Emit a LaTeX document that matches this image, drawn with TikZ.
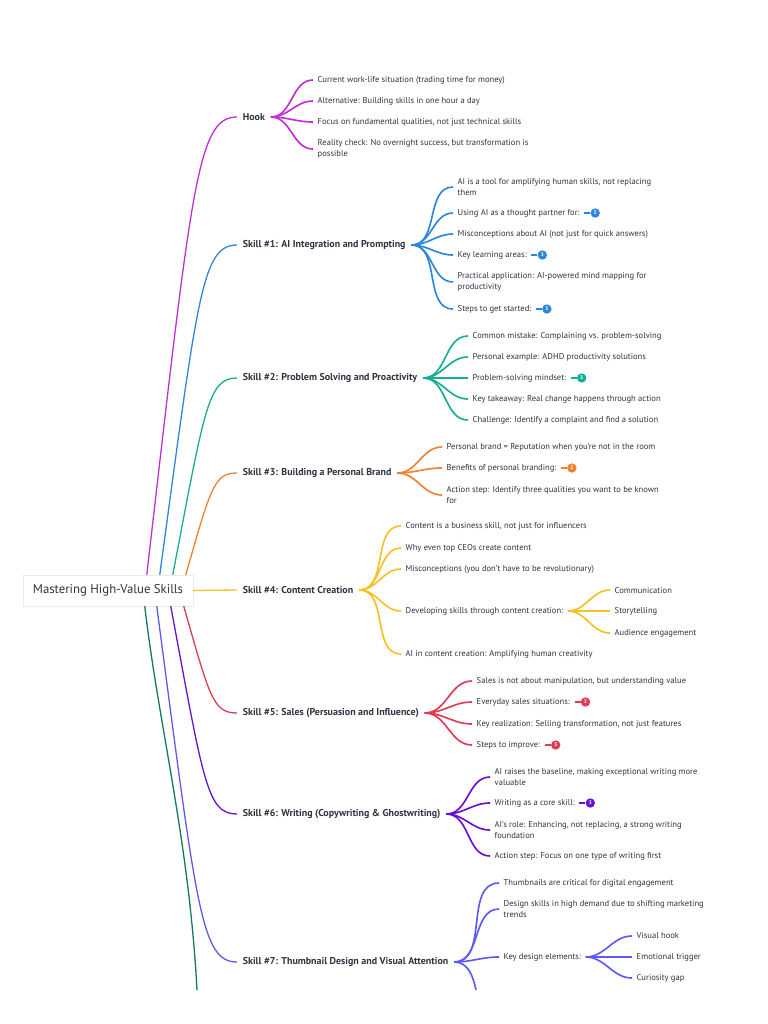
\documentclass[tikz,border=0pt]{standalone}
\usepackage{fontspec}
\setmainfont{PT Sans}
\usetikzlibrary{positioning,calc}

\definecolor{ink}{HTML}{2E3440}
\definecolor{hookc}{HTML}{C22DD6}
\definecolor{aic}{HTML}{2D86DD}
\definecolor{probc}{HTML}{15AD93}
\definecolor{brandc}{HTML}{F0802C}
\definecolor{contc}{HTML}{F8C023}
\definecolor{salesc}{HTML}{DE3B54}
\definecolor{writc}{HTML}{6A0FCF}
\definecolor{thumbc}{HTML}{5E59F2}
\definecolor{nextc}{HTML}{107A5C}

\newcommand{\leaffont}{\fontsize{7.3}{9}\selectfont}
\newcommand{\skillfont}{\bfseries\fontsize{8.5}{10}\selectfont}
\newcommand{\rootfont}{\fontsize{10.9}{12}\selectfont}

\tikzset{
  root/.style={draw=black!8, fill=white, minimum width=5.1cm, minimum height=0.93cm, font=\rootfont, text=ink},
  skill/.style={anchor=west, inner xsep=0.17cm, inner ysep=1pt, font=\skillfont, text=ink},
  leaf/.style={anchor=west, inner xsep=0.135cm, inner ysep=1pt, align=left, font=\leaffont, text=ink},
  trunk/.style={draw=#1, line width=1.1pt},
  twig/.style={draw=#1, line width=1.4pt},
  badge/.style={circle, fill=#1, text=white, inner sep=0pt, minimum size=0.28cm, font=\bfseries\fontsize{4.5}{4.5}\selectfont},
}

\begin{document}
\begin{tikzpicture}[x=0.03cm, y=-0.03cm]
\useasboundingbox (0,0) rectangle (768,1024);
\fill[white] (0,0) rectangle (768,1024);

% central topic
\node[root] (root) at (108,590.5) {Mastering High-Value Skills};

% main branches
\node[skill] (hook) at (237,117) {Hook};
\node[skill] (ai) at (237,245) {Skill \#1: AI Integration and Prompting};
\node[skill] (prob) at (237,378) {Skill \#2: Problem Solving and Proactivity};
\node[skill] (brand) at (237,473) {Skill \#3: Building a Personal Brand};
\node[skill] (cont) at (237,590) {Skill \#4: Content Creation};
\node[skill] (sales) at (237,713) {Skill \#5: Sales (Persuasion and Influence)};
\node[skill] (writ) at (237,814) {Skill \#6: Writing (Copywriting \& Ghostwriting)};
\node[skill] (thumb) at (237,962) {Skill \#7: Thumbnail Design and Visual Attention};
\coordinate (next) at (197,990);

\draw[trunk=hookc] ($(root.north west)+(124,0)$) .. controls +(45,-389) and +(-40,0) .. (hook.west);
\draw[trunk=aic] ($(root.north west)+(137,0)$) .. controls +(38,-280) and +(-35,0) .. (ai.west);
\draw[trunk=probc] ($(root.north west)+(150,0)$) .. controls +(32,-167) and +(-29,0) .. (prob.west);
\draw[trunk=brandc] ($(root.north west)+(163,0)$) .. controls +(25,-87) and +(-23,0) .. (brand.west);
\draw[trunk=contc] (root.east) -- (cont.west);
\draw[trunk=salesc] ($(root.south west)+(161,0)$) .. controls +(26,91) and +(-24,0) .. (sales.west);
\draw[trunk=writc] ($(root.south west)+(148,0)$) .. controls +(33,177) and +(-30,0) .. (writ.west);
\draw[trunk=thumbc] ($(root.south west)+(134,0)$) .. controls +(40,303) and +(-36,0) .. (thumb.west);
\draw[trunk=nextc] ($(root.south west)+(122,0)$) .. controls +(14,120) and +(-8,-150) .. (next);

% Hook
\node[leaf] (h1) at (313,80) {Current work-life situation (trading time for money)};
\node[leaf] (h2) at (313,101) {Alternative: Building skills in one hour a day};
\node[leaf] (h3) at (313,122) {Focus on fundamental qualities, not just technical skills};
\node[leaf] (h4) at (313,149) {Reality check: No overnight success, but transformation is\\possible};
\draw[twig=hookc] (hook.east) to[out=0,in=180] (h1.west);
\draw[twig=hookc] (hook.east) to[out=0,in=180] (h2.west);
\draw[twig=hookc] (hook.east) to[out=0,in=180] (h3.west);
\draw[twig=hookc] (hook.east) to[out=0,in=180] (h4.west);

% Skill 1
\node[leaf] (a1) at (453,187) {AI is a tool for amplifying human skills, not replacing\\them};
\node[leaf] (a2) at (453,213) {Using AI as a thought partner for:};
\node[leaf] (a3) at (453,234) {Misconceptions about AI (not just for quick answers)};
\node[leaf] (a4) at (453,255) {Key learning areas:};
\node[leaf] (a5) at (453,282) {Practical application: AI-powered mind mapping for\\productivity};
\node[leaf] (a6) at (453,309) {Steps to get started:};
\node[badge=aic, right=0.18cm of a2] (a2b) {3};
\node[badge=aic, right=0.18cm of a4] (a4b) {3};
\node[badge=aic, right=0.18cm of a6] (a6b) {3};
\draw[twig=aic] (ai.east) to[out=0,in=180] (a1.west);
\draw[twig=aic] (ai.east) to[out=0,in=180] (a2.west);
\draw[twig=aic] (ai.east) to[out=0,in=180] (a3.west);
\draw[twig=aic] (ai.east) to[out=0,in=180] (a4.west);
\draw[twig=aic] (ai.east) to[out=0,in=180] (a5.west);
\draw[twig=aic] (ai.east) to[out=0,in=180] (a6.west);
\draw[twig=aic] (a2.east) -- (a2b.west);
\draw[twig=aic] (a4.east) -- (a4b.west);
\draw[twig=aic] (a6.east) -- (a6b.west);

% Skill 2
\node[leaf] (b1) at (468,336) {Common mistake: Complaining vs. problem-solving};
\node[leaf] (b2) at (468,357) {Personal example: ADHD productivity solutions};
\node[leaf] (b3) at (468,378) {Problem-solving mindset:};
\node[leaf] (b4) at (468,399) {Key takeaway: Real change happens through action};
\node[leaf] (b5) at (468,420) {Challenge: Identify a complaint and find a solution};
\node[badge=probc, right=0.18cm of b3] (b3b) {3};
\draw[twig=probc] (prob.east) to[out=0,in=180] (b1.west);
\draw[twig=probc] (prob.east) to[out=0,in=180] (b2.west);
\draw[twig=probc] (prob.east) to[out=0,in=180] (b3.west);
\draw[twig=probc] (prob.east) to[out=0,in=180] (b4.west);
\draw[twig=probc] (prob.east) to[out=0,in=180] (b5.west);
\draw[twig=probc] (b3.east) -- (b3b.west);

% Skill 3
\node[leaf] (c1) at (442,447) {Personal brand = Reputation when you're not in the room};
\node[leaf] (c2) at (442,468) {Benefits of personal branding:};
\node[leaf] (c3) at (442,495) {Action step: Identify three qualities you want to be known\\for};
\node[badge=brandc, right=0.18cm of c2] (c2b) {2};
\draw[twig=brandc] (brand.east) to[out=0,in=180] (c1.west);
\draw[twig=brandc] (brand.east) to[out=0,in=180] (c2.west);
\draw[twig=brandc] (brand.east) to[out=0,in=180] (c3.west);
\draw[twig=brandc] (c2.east) -- (c2b.west);

% Skill 4
\node[leaf] (d1) at (401,526) {Content is a business skill, not just for influencers};
\node[leaf] (d2) at (401,548) {Why even top CEOs create content};
\node[leaf] (d3) at (401,569) {Misconceptions (you don't have to be revolutionary)};
\node[leaf] (d4) at (401,611) {Developing skills through content creation:};
\node[leaf] (d5) at (401,654) {AI in content creation: Amplifying human creativity};
\node[leaf] (e1) at (610,590) {Communication};
\node[leaf] (e2) at (610,611) {Storytelling};
\node[leaf] (e3) at (610,633) {Audience engagement};
\draw[twig=contc] (cont.east) to[out=0,in=180] (d1.west);
\draw[twig=contc] (cont.east) to[out=0,in=180] (d2.west);
\draw[twig=contc] (cont.east) to[out=0,in=180] (d3.west);
\draw[twig=contc] (cont.east) to[out=0,in=180] (d4.west);
\draw[twig=contc] (cont.east) to[out=0,in=180] (d5.west);
\draw[twig=contc] (d4.east) to[out=0,in=180] (e1.west);
\draw[twig=contc] (d4.east) to[out=0,in=180] (e2.west);
\draw[twig=contc] (d4.east) to[out=0,in=180] (e3.west);

% Skill 5
\node[leaf] (f1) at (472,681) {Sales is not about manipulation, but understanding value};
\node[leaf] (f2) at (472,702) {Everyday sales situations:};
\node[leaf] (f3) at (472,724) {Key realization: Selling transformation, not just features};
\node[leaf] (f4) at (472,745) {Steps to improve:};
\node[badge=salesc, right=0.18cm of f2] (f2b) {3};
\node[badge=salesc, right=0.18cm of f4] (f4b) {3};
\draw[twig=salesc] (sales.east) to[out=0,in=180] (f1.west);
\draw[twig=salesc] (sales.east) to[out=0,in=180] (f2.west);
\draw[twig=salesc] (sales.east) to[out=0,in=180] (f3.west);
\draw[twig=salesc] (sales.east) to[out=0,in=180] (f4.west);
\draw[twig=salesc] (f2.east) -- (f2b.west);
\draw[twig=salesc] (f4.east) -- (f4b.west);

% Skill 6
\node[leaf] (g1) at (490,777) {AI raises the baseline, making exceptional writing more\\valuable};
\node[leaf] (g2) at (490,803) {Writing as a core skill:};
\node[leaf] (g3) at (490,830) {AI's role: Enhancing, not replacing, a strong writing\\foundation};
\node[leaf] (g4) at (490,856) {Action step: Focus on one type of writing first};
\node[badge=writc, right=0.18cm of g2] (g2b) {3};
\draw[twig=writc] (writ.east) to[out=0,in=180] (g1.west);
\draw[twig=writc] (writ.east) to[out=0,in=180] (g2.west);
\draw[twig=writc] (writ.east) to[out=0,in=180] (g3.west);
\draw[twig=writc] (writ.east) to[out=0,in=180] (g4.west);
\draw[twig=writc] (g2.east) -- (g2b.west);

% Skill 7
\node[leaf] (k1) at (499,883) {Thumbnails are critical for digital engagement};
\node[leaf] (k2) at (499,909) {Design skills in high demand due to shifting marketing\\trends};
\node[leaf] (k3) at (499,957) {Key design elements:};
\node[leaf] (m1) at (632,936) {Visual hook};
\node[leaf] (m2) at (632,957) {Emotional trigger};
\node[leaf] (m3) at (632,978) {Curiosity gap};
\coordinate (k4) at (476,990);
\draw[twig=thumbc] (thumb.east) to[out=0,in=180] (k1.west);
\draw[twig=thumbc] (thumb.east) to[out=0,in=180] (k2.west);
\draw[twig=thumbc] (thumb.east) to[out=0,in=180] (k3.west);
\draw[twig=thumbc] (thumb.east) .. controls +(14,0) and +(-3,-14) .. (k4);
\draw[twig=thumbc] (k3.east) to[out=0,in=180] (m1.west);
\draw[twig=thumbc] (k3.east) to[out=0,in=180] (m2.west);
\draw[twig=thumbc] (k3.east) to[out=0,in=180] (m3.west);
\end{tikzpicture}
\end{document}
